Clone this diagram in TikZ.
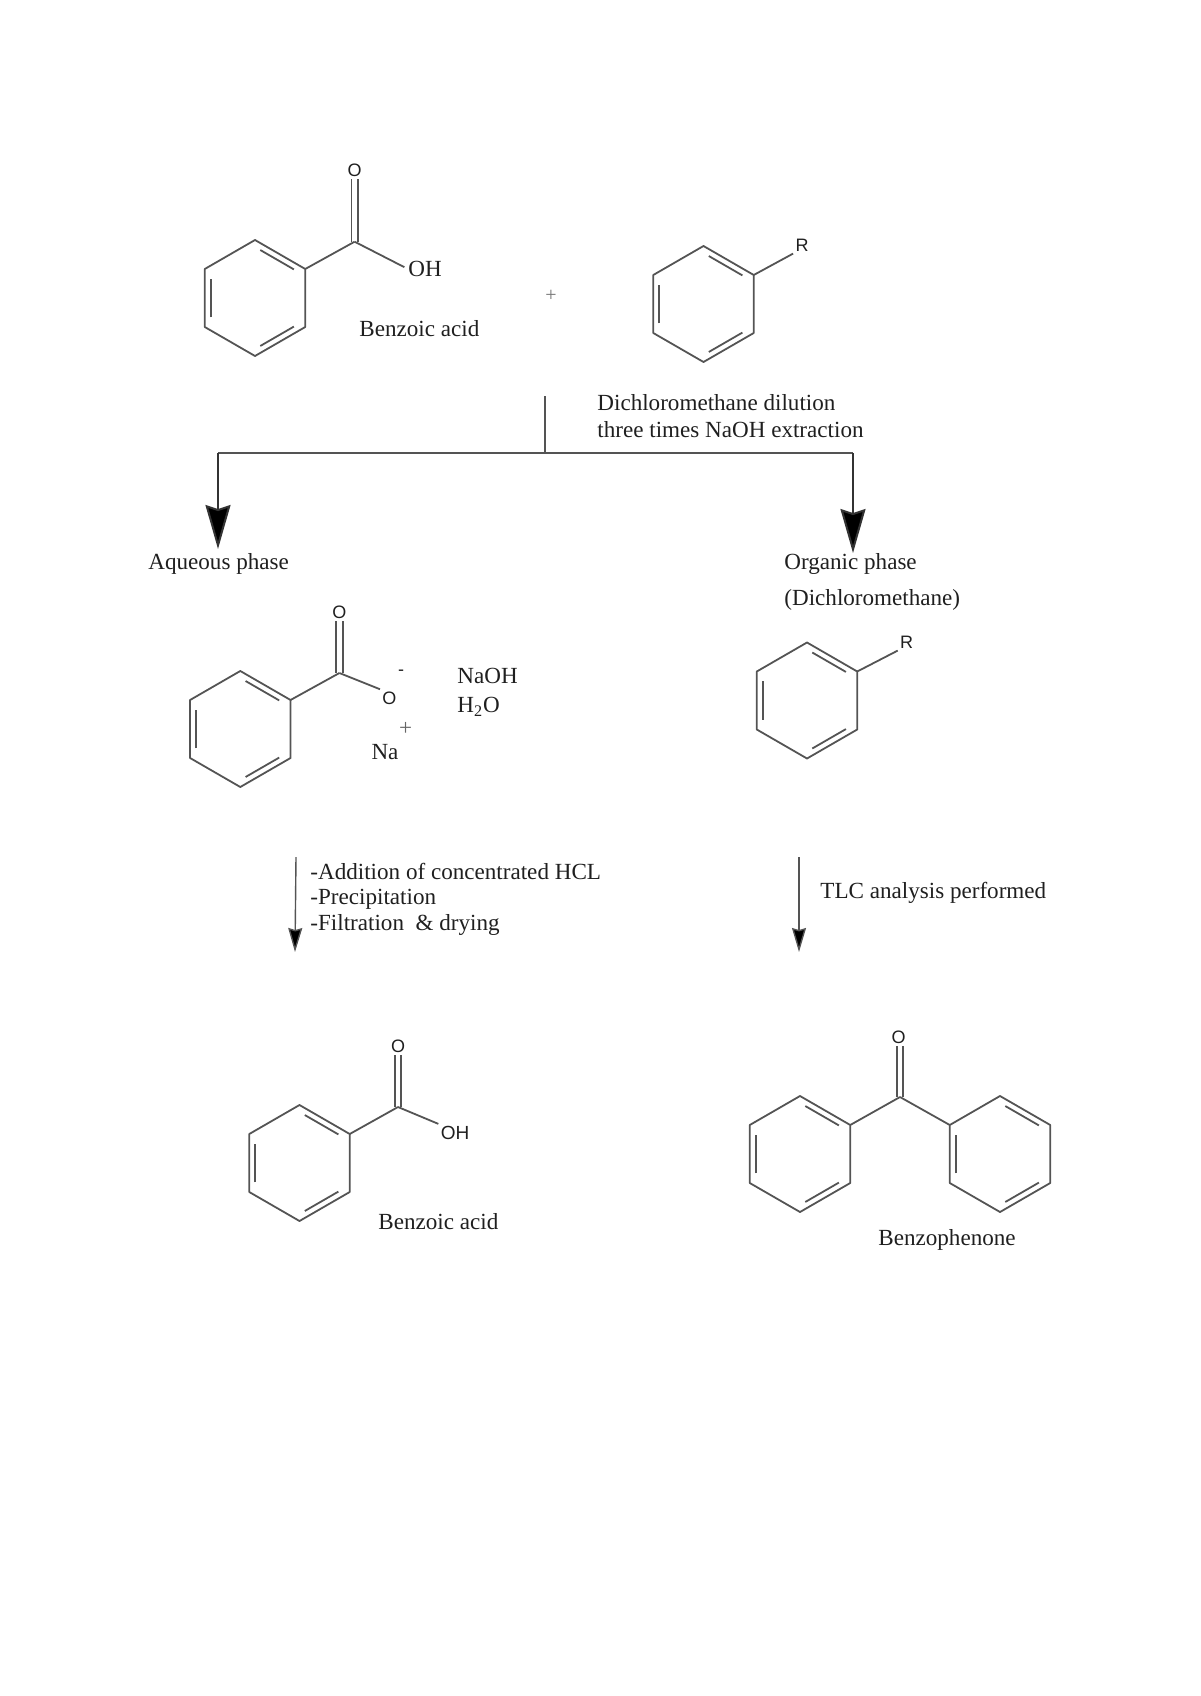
\documentclass[tikz,border=0pt]{standalone}
\usepackage{fontspec}
\setmainfont{Liberation Serif}
\setsansfont{Liberation Sans}
\usetikzlibrary{calc,arrows.meta}
\definecolor{bondgray}{gray}{0.33}
\definecolor{inkgray}{gray}{0.12}
\tikzset{
  bond/.style={draw=bondgray,line width=0.9pt},
  txt/.style={inner sep=0pt,text=inkgray,font=\fontsize{11.55}{13}\selectfont},
  atom/.style={inner sep=1pt,text=inkgray,font=\sffamily\fontsize{9}{11}\selectfont},
  bigarrow/.style={draw=black!80,line width=1pt,-{Stealth[length=22pt,width=12.5pt,inset=2pt,fill=black]}},
  smallarrow/.style={draw=bondgray,line width=0.7pt,-{Stealth[length=12pt,width=7pt,inset=1pt,fill=black]}}
}
% ring: name, centre x, centre y
\newcommand{\phring}[3]{
  \coordinate (#1) at (#2,#3);
  \foreach \i in {1,...,6}
    \coordinate (#1v\i) at ($(#1)+({-150+60*\i}:58)$);
  \draw[bond,line join=round] (#1v1) -- (#1v2) -- (#1v3) -- (#1v4) -- (#1v5) -- (#1v6) -- cycle;
  \foreach \p/\q in {1/2,3/4,5/6}
    \draw[bond] ($(#1)!0.88!($(#1v\p)!0.12!(#1v\q)$)$) -- ($(#1)!0.88!($(#1v\q)!0.12!(#1v\p)$)$);
}
% C=O drawn as two vertical lines
\newcommand{\cobond}[2]{
  \draw[bond] ([xshift=-1.6pt]#1) -- ([xshift=-1.6pt]#1 |- #2.south);
  \draw[bond] ([xshift=1.6pt]#1) -- ([xshift=1.6pt]#1 |- #2.south);
}
\begin{document}
\begin{tikzpicture}[x=0.5pt,y=-0.5pt]
  \useasboundingbox (0,0) rectangle (1200,1696);
  % benzoic acid, top
  \phring{ringA}{255}{298}
  \coordinate (cA) at (354.6,241.7);
  \node[atom] (oA) at (354.6,170) {O};
  \node[txt] (ohA) at (425,269) {OH};
  \draw[bond] (ringAv2) -- (cA);
  \draw[bond,shorten >=2pt] (cA) -- (ohA.west);
  \cobond{cA}{oA}
  \node[txt,anchor=west] (nameA) at (359,328.5) {Benzoic acid};
  \node[txt,text=black!55,font=\fontsize{10}{11}\selectfont] (plus) at (551,296) {+};
  % R-benzene, top
  \phring{ringB}{703.5}{304}
  \node[atom] (rB) at (802,245) {R};
  \draw[bond] (ringBv2) -- (rB.south west);
  % split
  \coordinate (splitTop) at (545,396);
  \coordinate (splitMid) at (545,453);
  \coordinate (splitL) at (218,453);
  \coordinate (splitR) at (853,453);
  \coordinate (tipL) at (218,549);
  \coordinate (tipR) at (853,553);
  \draw[bond] (splitTop) -- (splitMid);
  \draw[bond,line width=1.3pt] (splitL) -- (splitR);
  \draw[bigarrow] (splitL) -- (tipL);
  \draw[bigarrow] (splitR) -- (tipR);
  \node[txt,anchor=west] (dil1) at (597,403) {Dichloromethane dilution};
  \node[txt,anchor=west] (dil2) at (597,429.5) {three times NaOH extraction};
  \node[txt,anchor=west] (aq) at (148,564) {Aqueous phase};
  \node[txt,anchor=west] (org1) at (784,564) {Organic phase};
  \node[txt,anchor=west] (org2) at (784,600) {(Dichloromethane)};
  % sodium benzoate
  \phring{ringC}{240.3}{729}
  \coordinate (cC) at (339.4,673);
  \node[atom] (oC) at (339.4,612) {O};
  \node[atom] (omC) at (389.4,698) {O};
  \draw[bond] (ringCv2) -- (cC);
  \draw[bond] (cC) -- (omC.north west);
  \cobond{cC}{oC}
  \node[atom] (minus) at (401,673) {-};
  \node[txt,text=black!60] (plusNa) at (405.6,729) {+};
  \node[txt] (na) at (385,752) {Na};
  \node[txt,anchor=west] (naoh) at (457,676) {NaOH};
  \node[txt,anchor=west] (water) at (457,707) {H\textsubscript{2}O};
  % R-benzene, organic phase
  \phring{ringD}{807}{700.5}
  \node[atom] (rD) at (906.6,642) {R};
  \draw[bond] (ringDv2) -- (rD.south west);
  % work-up arrows
  \coordinate (arrLa) at (296,857);
  \coordinate (arrLb) at (295,952);
  \coordinate (arrRa) at (799,857);
  \coordinate (arrRb) at (799,952);
  \draw[smallarrow] (arrLa) -- (arrLb);
  \draw[smallarrow] (arrRa) -- (arrRb);
  \node[txt,anchor=west] (step1) at (310,871) {-Addition of concentrated HCL};
  \node[txt,anchor=west] (step2) at (310,899) {-Precipitation};
  \node[txt,anchor=west] (step3) at (310,925) {-Filtration\ \ \& drying};
  \node[txt,anchor=west] (tlc) at (820,893) {TLC analysis performed};
  % benzoic acid, bottom
  \phring{ringE}{299.5}{1163}
  \coordinate (cE) at (398,1107);
  \node[atom] (oE) at (398,1046) {O};
  \node[atom,font=\sffamily\fontsize{9.5}{11}\selectfont] (ohE) at (455,1133) {OH};
  \draw[bond] (ringEv2) -- (cE);
  \draw[bond] (cE) -- (ohE.north west);
  \cobond{cE}{oE}
  \node[txt,anchor=west] (nameE) at (378,1222) {Benzoic acid};
  % benzophenone
  \phring{ringF}{800}{1154}
  \phring{ringG}{1000}{1154}
  \coordinate (cF) at (900,1097);
  \node[atom] (oF) at (898.5,1037) {O};
  \draw[bond] (ringFv2) -- (cF);
  \draw[bond] (cF) -- (ringGv6);
  \cobond{cF}{oF}
  \node[txt,anchor=west] (nameF) at (878,1239.5) {Benzophenone};
\end{tikzpicture}
\end{document}
